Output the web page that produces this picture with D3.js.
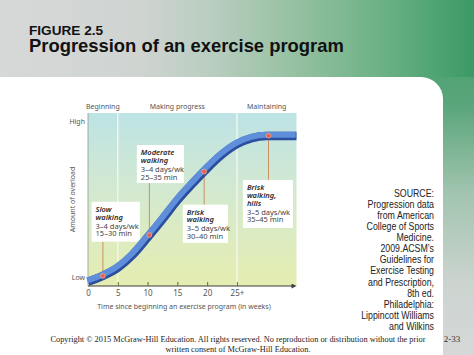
<!DOCTYPE html>
<html>
<head>
<meta charset="utf-8">
<script src="https://cdn.jsdelivr.net/npm/d3@7"></script>
<style>
  html, body { margin: 0; padding: 0; background: #fff; }
  svg { display: block; }
</style>
</head>
<body>
<div id="slide"></div>
<script>
// curve: amount of overload (0 = bottom of plot, 100 = top) by week
const weeks = [0, 2.5, 5, 7.5, 10, 12.5, 15, 17.5, 20, 22.5, 25, 27.5, 30, 35]
const overload = [2.5, 5.8, 10.5, 18, 28, 38.5, 49.5, 59, 68, 76, 82, 85.5, 86.7, 86.7]

const phases = ['Beginning', 'Making progress', 'Maintaining']
const phaseStart = [0, 5, 25]
const phaseEnd = [5, 25, 35]

const xTicks = [0, 5, 10, 15, 20, 25]
const xTickLabels = ['0', '5', '10', '15', '20', '25+']
const yTickValues = [5, 95]
const yTickLabels = ['Low', 'High']

// the four program stages
const markerWeeks = [2.5, 10.3, 19.5, 30.3]
const markerValues = [5.8, 29.5, 66.1, 86.9]
const stageTitles = [['Slow', 'walking'], ['Moderate', 'walking'], ['Brisk', 'walking'], ['Brisk', 'walking,', 'hills']]
const stageDays = ['3–4 days/wk', '3–4 days/wk', '3–5 days/wk', '3–5 days/wk']
const stageMinutes = ['15–30 min', '25–35 min', '30–40 min', '35–45 min']

const sourceLines = ['SOURCE:', 'Progression data', 'from American', 'College of Sports', 'Medicine.',
  '2009.ACSM\u2019s', 'Guidelines for', 'Exercise Testing', 'and Prescription,', '8th ed.',
  'Philadelphia:', 'Lippincott Williams', 'and Wilkins']
const copyrightLines = ['Copyright \u00a9 2015 McGraw-Hill Education. All rights reserved. No reproduction or distribution without the prior',
  'written consent of McGraw-Hill Education.']

// callout box extents, in chart units (weeks, overload)
const boxWeeks = [[0.6, 8.7], [8.2, 16.1], [15.9, 23.5], [26, 34.4]]
const boxValues = [[25.6, 48.7], [59.5, 81.5], [24.9, 47], [33.5, 61.3]]

const W = 474
const H = 355
const chartFont = "'Noto Sans', 'Open Sans', sans-serif"

const svg = d3.select('#slide').append('svg')
  .attr('width', W)
  .attr('height', H)

const defs = svg.append('defs')

const headGrad = defs.append('linearGradient').attr('id', 'headGrad')
  .attr('x1', 0).attr('x2', 1).attr('y1', 0).attr('y2', 0)
headGrad.selectAll('stop')
  .data([[0, '#d6d8d8'], [0.3, '#cfd4d1'], [0.45, '#b8cdbf'], [0.62, '#96c1a2'], [0.8, '#6db286'], [1, '#3b9a66']])
  .enter().append('stop')
  .attr('offset', d => d[0])
  .attr('stop-color', d => d[1])

const sideGrad = defs.append('linearGradient').attr('id', 'sideGrad')
  .attr('x1', 0).attr('x2', 0).attr('y1', 0).attr('y2', 1)
sideGrad.selectAll('stop')
  .data([[0, '#3b9a66'], [0.3, '#5ba67c'], [0.55, '#a3c5b0'], [0.8, '#ccd4d0'], [1, '#d6d8d8']])
  .enter().append('stop')
  .attr('offset', d => d[0])
  .attr('stop-color', d => d[1])

const plotGrad = defs.append('linearGradient').attr('id', 'plotGrad')
  .attr('x1', 0).attr('x2', 0).attr('y1', 0).attr('y2', 1)
plotGrad.selectAll('stop')
  .data([[0, '#bde3e5'], [0.45, '#d3e9d0'], [1, '#e5edb0']])
  .enter().append('stop')
  .attr('offset', d => d[0])
  .attr('stop-color', d => d[1])

defs.append('marker')
  .attr('id', 'arrow')
  .attr('viewBox', '0 0 10 10')
  .attr('refX', 2).attr('refY', 5)
  .attr('markerWidth', 7).attr('markerHeight', 5)
  .attr('markerUnits', 'userSpaceOnUse')
  .attr('orient', 'auto')
  .append('path')
  .attr('d', 'M0,0L10,5L0,10Z')
  .attr('fill', '#3d3d3d')

// slide frame
svg.append('rect').attr('width', W).attr('height', H).attr('fill', 'url(#sideGrad)')
svg.append('rect').attr('width', W).attr('height', 77).attr('fill', 'url(#headGrad)')
const r = 22
svg.append('path')
  .attr('d', `M0,77H${443 - r}A${r},${r} 0 0 1 443,${77 + r}V${H}H0Z`)
  .attr('fill', '#fff')

svg.append('text').attr('x', 29).attr('y', 35)
  .attr('font-family', "'Liberation Sans', Arial, sans-serif")
  .attr('font-weight', 'bold').attr('font-size', 13.6).attr('fill', '#111')
  .text('FIGURE 2.5')
svg.append('text').attr('x', 29).attr('y', 52)
  .attr('font-family', "'Liberation Sans', Arial, sans-serif")
  .attr('font-weight', 'bold').attr('font-size', 18.4).attr('fill', '#111')
  .text('Progression of an exercise program')

// chart
const x = d3.scaleLinear().domain([0, 35]).range([88, 296.5])
const y = d3.scaleLinear().domain([0, 100]).range([286, 113])

const g = svg.append('g').attr('font-family', chartFont)

g.append('rect')
  .attr('x', x(0)).attr('y', y(100))
  .attr('width', x(35) - x(0)).attr('height', y(0) - y(100))
  .attr('fill', 'url(#plotGrad)')

// phase dividers and headings
g.selectAll('.divider')
  .data(phaseStart.slice(1))
  .enter().append('line')
  .attr('class', 'divider')
  .attr('x1', d => x(d)).attr('x2', d => x(d))
  .attr('y1', y(100)).attr('y2', y(0))
  .attr('stroke', '#f6f9f1').attr('stroke-width', 1.3)

g.selectAll('.phase')
  .data(phases)
  .enter().append('text')
  .attr('class', 'phase')
  .attr('x', (d, i) => x((phaseStart[i] + phaseEnd[i]) / 2))
  .attr('y', y(100) - 4)
  .attr('text-anchor', 'middle')
  .attr('font-size', 7).attr('fill', '#555')
  .text(d => d)

g.append('line')
  .attr('x1', x(0)).attr('x2', x(0))
  .attr('y1', y(100)).attr('y2', y(0))
  .attr('stroke', '#8e9a96').attr('stroke-width', 0.8)

// callouts
const boxes = g.selectAll('.callout')
  .data(markerWeeks)
  .enter().append('g')
  .attr('class', 'callout')

boxes.append('line')
  .attr('x1', (d, i) => x(d)).attr('x2', (d, i) => x(d))
  .attr('y1', (d, i) => y(markerValues[i]))
  .attr('y2', (d, i) => {
    const [lo, hi] = boxValues[i]
    return markerValues[i] < lo ? y(lo) : y(hi)
  })
  .attr('stroke', '#c99160').attr('stroke-width', 1)

boxes.append('rect')
  .attr('x', (d, i) => x(boxWeeks[i][0]))
  .attr('y', (d, i) => y(boxValues[i][1]))
  .attr('width', (d, i) => x(boxWeeks[i][1]) - x(boxWeeks[i][0]))
  .attr('height', (d, i) => y(boxValues[i][0]) - y(boxValues[i][1]))
  .attr('fill', '#fff')

boxes.each(function (d, i) {
  const bx = x(boxWeeks[i][0]) + 4
  const top = y(boxValues[i][1])
  const t = d3.select(this).append('text').attr('font-size', 7.5)
  stageTitles[i].forEach((s, k) => {
    t.append('tspan').attr('x', bx).attr('y', top + 10 + k * 7.8)
      .attr('font-weight', 600).attr('font-style', 'italic').attr('fill', '#2b2b2b')
      .text(s)
  })
  const base = top + 10 + (stageTitles[i].length - 1) * 7.8 + 9
  t.append('tspan').attr('x', bx).attr('y', base).attr('fill', '#444').text(stageDays[i])
  t.append('tspan').attr('x', bx).attr('y', base + 7.8).attr('fill', '#444').text(stageMinutes[i])
})

// progression band
const line = d3.line()
  .x(d => x(d[0]))
  .y(d => y(d[1]))
  .curve(d3.curveMonotoneX)
const pts = weeks.map((w, i) => [w, overload[i]])

g.append('path')
  .attr('d', line(pts))
  .attr('fill', 'none')
  .attr('stroke', '#2b4e9e').attr('stroke-width', 8.5)
g.append('path')
  .attr('d', line(pts))
  .attr('transform', 'translate(-0.8,-1.3)')
  .attr('fill', 'none')
  .attr('stroke', '#5f8fdb').attr('stroke-width', 6)

g.selectAll('.dot')
  .data(markerWeeks)
  .enter().append('circle')
  .attr('class', 'dot')
  .attr('cx', d => x(d))
  .attr('cy', (d, i) => y(markerValues[i]))
  .attr('r', 2.4)
  .attr('fill', '#e5604f')
  .attr('stroke', '#f3a48f').attr('stroke-width', 0.8)

// axes
const xAxis = g.append('g')
  .attr('transform', `translate(0,${y(0)})`)
  .call(d3.axisBottom(x)
    .tickValues(xTicks)
    .tickFormat((d, i) => xTickLabels[i])
    .tickSizeInner(-4)
    .tickSizeOuter(0)
    .tickPadding(4))
xAxis.select('.domain')
  .attr('stroke', '#3d3d3d').attr('stroke-width', 1.2)
  .attr('d', `M${x(0)},0H${x(35) - 4}`)
  .attr('marker-end', 'url(#arrow)')
xAxis.selectAll('.tick line').attr('stroke', '#5d6b2e').attr('stroke-width', 1)
xAxis.selectAll('.tick text')
  .attr('font-family', chartFont).attr('font-size', 8).attr('fill', '#555')
xAxis.select('.tick line').remove()

const yAxis = g.append('g')
  .attr('transform', `translate(${x(0) - 3},0)`)
  .call(d3.axisLeft(y)
    .tickValues(yTickValues)
    .tickFormat((d, i) => yTickLabels[i])
    .tickSize(0)
    .tickPadding(0))
yAxis.select('.domain').remove()
yAxis.selectAll('.tick text')
  .attr('font-family', chartFont).attr('font-size', 7).attr('fill', '#555')

g.append('text')
  .attr('transform', `translate(75,${y(50)}) rotate(-90)`)
  .attr('text-anchor', 'middle')
  .attr('font-size', 7).attr('fill', '#555')
  .text('Amount of overload')

g.append('text')
  .attr('x', 184).attr('y', 308.5)
  .attr('text-anchor', 'middle')
  .attr('font-size', 7).attr('fill', '#555')
  .text('Time since beginning an exercise program (in weeks)')

// source note, slightly condensed like the slide font
svg.append('g')
  .attr('transform', 'translate(434,0) scale(0.88,1)')
  .append('text')
  .attr('font-family', "'Liberation Sans', Arial, sans-serif")
  .attr('font-size', 10).attr('fill', '#222')
  .attr('text-anchor', 'end')
  .selectAll('tspan')
  .data(sourceLines)
  .enter().append('tspan')
  .attr('x', 0)
  .attr('y', (d, i) => 196.8 + i * 11.1)
  .text(d => d)

svg.append('text')
  .attr('font-family', "'Liberation Serif', 'Times New Roman', serif")
  .attr('font-size', 8.3).attr('fill', '#222')
  .attr('text-anchor', 'middle')
  .selectAll('tspan')
  .data(copyrightLines)
  .enter().append('tspan')
  .attr('x', 238)
  .attr('y', (d, i) => 342 + i * 10.3)
  .text(d => d)

svg.append('text')
  .attr('x', 452).attr('y', 341.5)
  .attr('text-anchor', 'middle')
  .attr('font-family', "'Liberation Serif', 'Times New Roman', serif")
  .attr('font-size', 9).attr('fill', '#333')
  .text('2-33')
</script>
</body>
</html>
